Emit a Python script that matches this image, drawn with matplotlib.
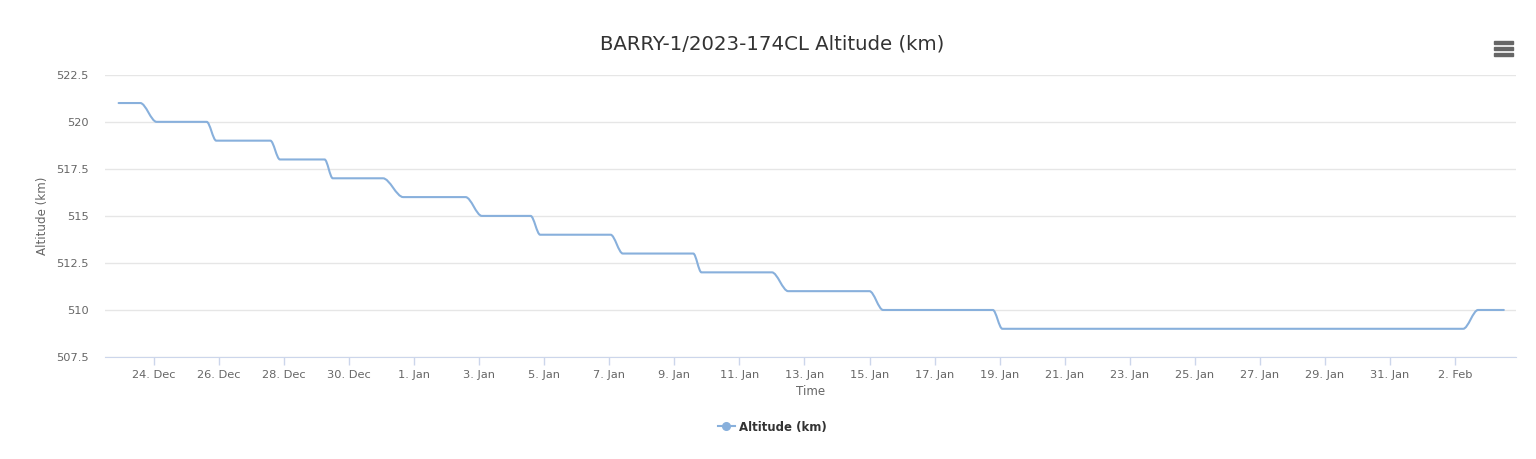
import matplotlib.dates as mdates
import matplotlib.pyplot as plt
import pandas as pd
from matplotlib.patches import PathPatch, Rectangle
from matplotlib.path import Path

# Corner points of the altitude steps
times = [
    "2023-12-22 22:00", "2023-12-23 14:00", "2023-12-24 02:00", "2023-12-25 15:00",
    "2023-12-25 22:00", "2023-12-27 14:00", "2023-12-27 21:00", "2023-12-29 06:00",
    "2023-12-29 12:00", "2023-12-31 01:00", "2023-12-31 16:00", "2024-01-02 14:00",
    "2024-01-03 02:00", "2024-01-04 14:00", "2024-01-04 21:00", "2024-01-07 01:00",
    "2024-01-07 10:00", "2024-01-09 14:00", "2024-01-09 20:00", "2024-01-12 00:00",
    "2024-01-12 12:00", "2024-01-15 00:00", "2024-01-15 10:00", "2024-01-18 19:00",
    "2024-01-19 02:00", "2024-02-02 06:00", "2024-02-02 17:00", "2024-02-03 12:00",
]
altitude = [
    521, 521, 520, 520,
    519, 519, 518, 518,
    517, 517, 516, 516,
    515, 515, 514, 514,
    513, 513, 512, 512,
    511, 511, 510, 510,
    509, 509, 510, 510,
]
y_ticks = [507.5, 510, 512.5, 515, 517.5, 520, 522.5]
x_start = "2023-12-22 12:00"
x_end = "2024-02-03 21:00"

df = pd.DataFrame({"Time": pd.to_datetime(times), "Altitude": altitude})

fig = plt.figure(figsize=(15.36, 4.59), dpi=100)
ax = fig.add_axes([0.0684, 0.2222, 0.9186, 0.6148])

line_color = "#88b0dc"

# spline-like line: cubic bezier between points with flat control handles
xs = mdates.date2num(df["Time"])
ys = df["Altitude"].to_numpy()
verts = [(xs[0], ys[0])]
codes = [Path.MOVETO]
for i in range(1, len(xs)):
    dx = xs[i] - xs[i - 1]
    verts += [(xs[i - 1] + dx / 3, ys[i - 1]), (xs[i] - dx / 3, ys[i]), (xs[i], ys[i])]
    codes += [Path.CURVE4, Path.CURVE4, Path.CURVE4]
ax.add_patch(PathPatch(Path(verts, codes), fill=False, edgecolor=line_color,
                       linewidth=1.5, capstyle="round", joinstyle="round"))

ax.set_xlim(pd.Timestamp(x_start), pd.Timestamp(x_end))
ax.set_ylim(507.5, 522.5)
ax.set_yticks(y_ticks)
ax.set_yticklabels([f"{v:g}" for v in y_ticks])

# x ticks every 2 days starting 24 Dec
tick_days = pd.date_range("2023-12-24", "2024-02-02", freq="2D")
ax.set_xticks(tick_days)
ax.set_xticklabels([f"{d.day}. {d.strftime('%b')}" for d in tick_days])

ax.grid(axis="y", color="#e6e6e6", linewidth=1)
ax.set_axisbelow(True)
for side in ["top", "right", "left"]:
    ax.spines[side].set_visible(False)
ax.spines["bottom"].set_color("#ccd6eb")
ax.tick_params(axis="x", colors="#ccd6eb", length=6, width=1, labelcolor="#666666",
               labelsize=8.2, pad=3)
ax.tick_params(axis="y", length=0, labelcolor="#666666", labelsize=8.2, pad=12)

ax.set_xlabel("Time", color="#666666", fontsize=8.6, labelpad=4)
ax.set_ylabel("Altitude (km)", color="#666666", fontsize=8.6, labelpad=5)

fig.text(0.503, 1 - 44 / 459, "BARRY-1/2023-174CL Altitude (km)", ha="center",
         va="center", color="#333333", fontsize=14.2)

leg_handle = plt.Line2D([], [], color=line_color, linewidth=1.5, marker="o", markersize=5.5)
fig.legend([leg_handle], ["Altitude (km)"], loc="center", bbox_to_anchor=(0.503, 1 - 427 / 459),
           frameon=False, prop={"weight": "bold", "size": 8.5}, handlelength=1.4,
           handletextpad=0.4, labelcolor="#333333")

# menu icon (top right)
for yy in [41, 47, 53]:
    fig.patches.append(Rectangle((1494 / 1536, 1 - (yy + 3) / 459), 19 / 1536, 3 / 459,
                                 transform=fig.transFigure, color="#666666", figure=fig))

fig.savefig("out.png", dpi=100)
